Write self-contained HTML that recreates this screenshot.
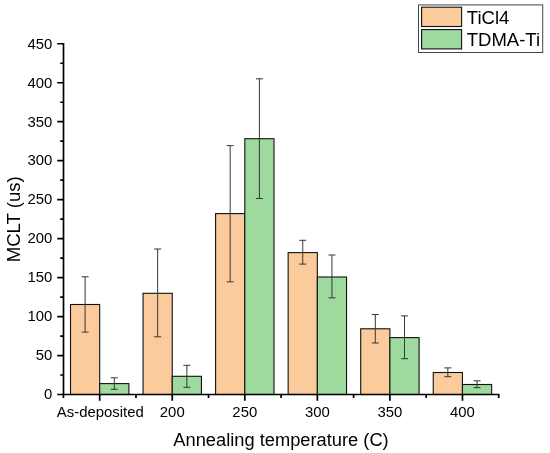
<!DOCTYPE html>
<html lang="en"><head><meta charset="utf-8"><title>MCLT vs annealing temperature</title>
<style>html,body{margin:0;padding:0;background:#fff}body{width:550px;height:453px;overflow:hidden}</style></head>
<body>
<svg width="550" height="453" viewBox="0 0 550 453" style="display:block">
<rect width="550" height="453" fill="#fff"/>
<g stroke="#111" stroke-width="1.1">
<rect x="70.50" y="304.50" width="29.20" height="90.00" fill="#FCCB9B"/>
<rect x="99.70" y="383.60" width="29.20" height="10.90" fill="#9ED99E"/>
<rect x="143.05" y="293.30" width="29.20" height="101.20" fill="#FCCB9B"/>
<rect x="172.25" y="376.30" width="29.20" height="18.20" fill="#9ED99E"/>
<rect x="215.60" y="213.60" width="29.20" height="180.90" fill="#FCCB9B"/>
<rect x="244.80" y="138.70" width="29.20" height="255.80" fill="#9ED99E"/>
<rect x="288.15" y="252.60" width="29.20" height="141.90" fill="#FCCB9B"/>
<rect x="317.35" y="277.00" width="29.20" height="117.50" fill="#9ED99E"/>
<rect x="360.70" y="328.80" width="29.20" height="65.70" fill="#FCCB9B"/>
<rect x="389.90" y="337.60" width="29.20" height="56.90" fill="#9ED99E"/>
<rect x="433.25" y="372.50" width="29.20" height="22.00" fill="#FCCB9B"/>
<rect x="462.45" y="384.50" width="29.20" height="10.00" fill="#9ED99E"/>
</g>
<g stroke="#363636" stroke-width="1" fill="none">
<path d="M85.10 276.80V332.10M81.60 276.80h7M81.60 332.10h7"/>
<path d="M114.30 377.80V389.30M110.80 377.80h7M110.80 389.30h7"/>
<path d="M157.65 249.00V336.80M154.15 249.00h7M154.15 336.80h7"/>
<path d="M186.85 365.30V387.30M183.35 365.30h7M183.35 387.30h7"/>
<path d="M230.20 145.60V281.80M226.70 145.60h7M226.70 281.80h7"/>
<path d="M259.40 78.80V198.50M255.90 78.80h7M255.90 198.50h7"/>
<path d="M302.75 240.30V264.10M299.25 240.30h7M299.25 264.10h7"/>
<path d="M331.95 255.00V297.80M328.45 255.00h7M328.45 297.80h7"/>
<path d="M375.30 314.50V343.00M371.80 314.50h7M371.80 343.00h7"/>
<path d="M404.50 315.90V358.70M401.00 315.90h7M401.00 358.70h7"/>
<path d="M447.85 367.90V376.70M444.35 367.90h7M444.35 376.70h7"/>
<path d="M477.05 380.80V387.60M473.55 380.80h7M473.55 387.60h7"/>
</g>
<g stroke="#000" stroke-width="1.7" fill="none">
<path d="M63.5 42.92V395.35"/>
<path d="M62.65 394.5H499.57"/>
<path d="M63.5 394.50h-6.3M63.5 375.01h-3.3M63.5 355.53h-6.3M63.5 336.05h-3.3M63.5 316.56h-6.3M63.5 297.07h-3.3M63.5 277.59h-6.3M63.5 258.11h-3.3M63.5 238.62h-6.3M63.5 219.13h-3.3M63.5 199.65h-6.3M63.5 180.16h-3.3M63.5 160.68h-6.3M63.5 141.19h-3.3M63.5 121.71h-6.3M63.5 102.23h-3.3M63.5 82.74h-6.3M63.5 63.25h-3.3M63.5 43.77h-6.3"/>
<path d="M63.43 394.5v3.4M99.70 394.5v6.2M135.97 394.5v3.4M172.25 394.5v6.2M208.53 394.5v3.4M244.80 394.5v6.2M281.07 394.5v3.4M317.35 394.5v6.2M353.62 394.5v3.4M389.90 394.5v6.2M426.18 394.5v3.4M462.45 394.5v6.2M498.72 394.5v3.4"/>
</g>
<g font-family="'Liberation Sans', Arial, sans-serif" fill="#000">
<g font-size="14.9" text-anchor="end">
<text x="52.4" y="399.30">0</text>
<text x="52.4" y="360.33">50</text>
<text x="52.4" y="321.36">100</text>
<text x="52.4" y="282.39">150</text>
<text x="52.4" y="243.42">200</text>
<text x="52.4" y="204.45">250</text>
<text x="52.4" y="165.48">300</text>
<text x="52.4" y="126.51">350</text>
<text x="52.4" y="87.54">400</text>
<text x="52.4" y="48.57">450</text>
</g>
<g font-size="14.9" text-anchor="middle">
<text x="100.30" y="416.9">As-deposited</text>
<text x="172.25" y="416.9">200</text>
<text x="244.80" y="416.9">250</text>
<text x="317.35" y="416.9">300</text>
<text x="389.90" y="416.9">350</text>
<text x="462.45" y="416.9">400</text>
</g>
<text font-size="18.3" text-anchor="middle" x="281" y="446">Annealing temperature (C)</text>
<text font-size="18.6" text-anchor="middle" transform="translate(19.8 219.3) rotate(-90)">MCLT (us)</text>
<rect x="418.5" y="4.9" width="124.2" height="47.6" fill="#fff" stroke="#444" stroke-width="1"/>
<rect x="421.6" y="7.2" width="40" height="19.3" fill="#FCCB9B" stroke="#111" stroke-width="1.1"/>
<rect x="421.6" y="29.6" width="40" height="19.3" fill="#9ED99E" stroke="#111" stroke-width="1.1"/>
<text font-size="18.5" x="466.8" y="23.8">TiCl4</text>
<text font-size="18.5" x="466.8" y="45.7">TDMA-Ti</text>
</g>
</svg>
</body></html>
